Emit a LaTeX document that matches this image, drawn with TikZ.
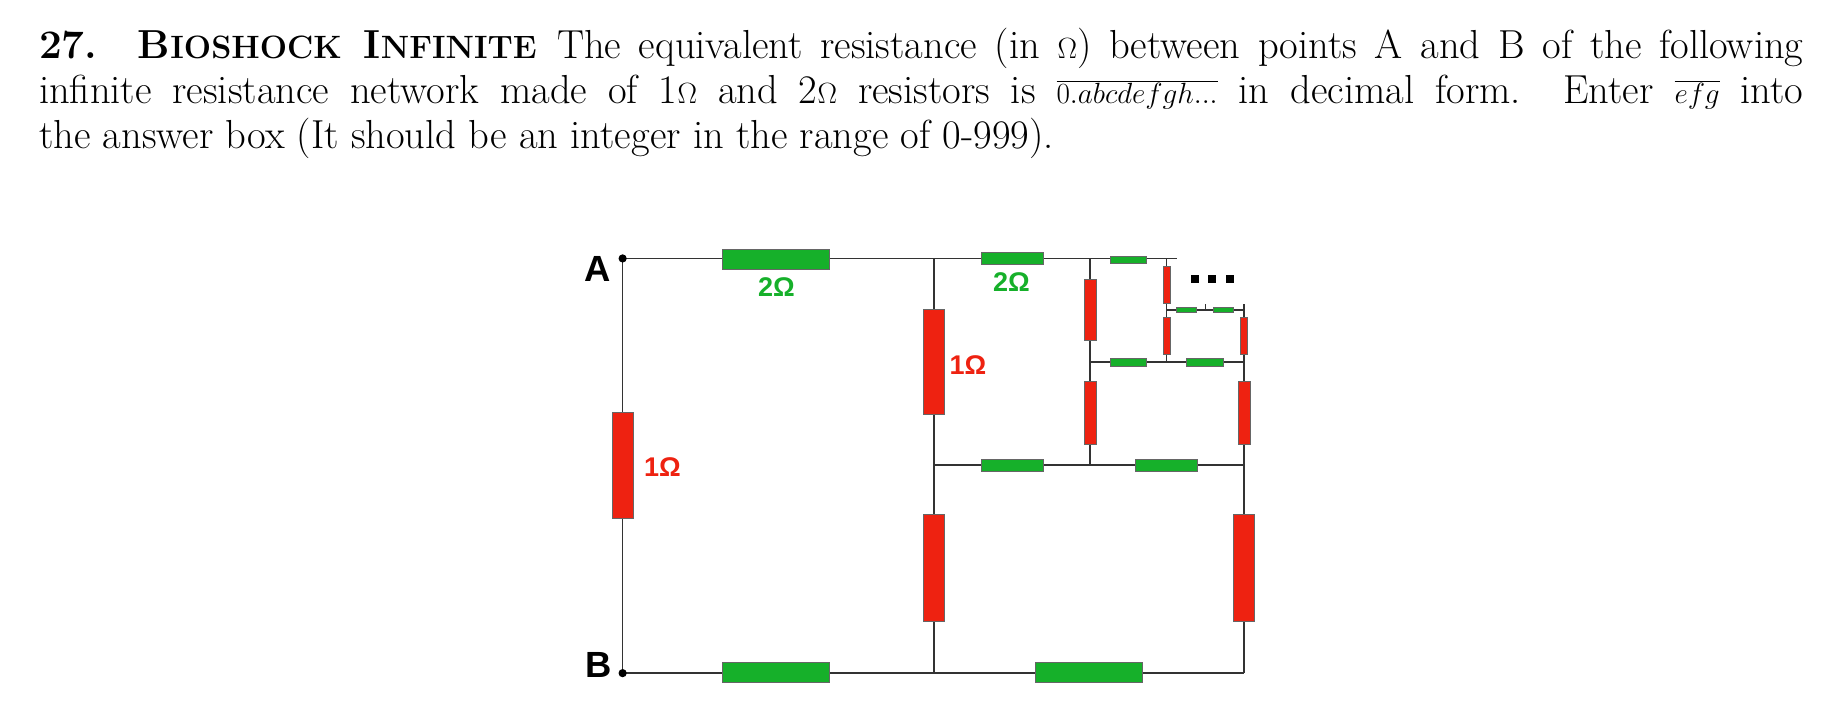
\documentclass[tikz,border=0pt]{standalone}
\usepackage{fontspec}
\newfontfamily\lab{Liberation Sans}
\definecolor{grn}{HTML}{16B02A}
\definecolor{rd}{HTML}{EE2211}
\definecolor{wire}{HTML}{333333}
\begin{document}
\begin{tikzpicture}[x=1pt,y=-1pt,
  wr/.style={draw=wire,line width=1.3pt},
  res/.style={draw=black!60,line width=0.6pt,inner sep=0pt,minimum width=#1},
  gres/.style={res=#1,fill=grn},
  rres/.style={res=#1,fill=rd},
  glab/.style={text=grn,font=\lab\bfseries\fontsize{23}{23}\selectfont},
  rlab/.style={text=rd,font=\lab\bfseries\fontsize{23}{23}\selectfont},
  ptlab/.style={font=\lab\bfseries\fontsize{31}{31}\selectfont},
  txt/.style={anchor=base west,inner sep=0pt,font=\fontsize{34.5}{38}\selectfont}]
\useasboundingbox (0,0) rectangle (1568,613);
% text
\newcommand\smc[1]{{\fontsize{27.5}{20}\selectfont #1}}
\node[txt] (l1) at (33,50) {\makebox[1502pt][s]{\textbf{27. B\smc{IOSHOCK} I\smc{NFINITE}}\enspace The equivalent resistance (in $\Omega$) between points A and B of the following}};
\node[txt] (l2) at (33,88) {\makebox[1502pt][s]{infinite resistance network made of 1$\Omega$ and 2$\Omega$ resistors is $\overline{0.abcdefgh...}$ in decimal form. Enter $\overline{efg}$ into}};
\node[txt] (l3) at (33,126) {the answer box (It should be an integer in the range of 0-999).};
% junctions
\coordinate (A) at (530,220); \coordinate (B) at (530,573);
\coordinate (T1) at (795,220); \coordinate (T2) at (928,220); \coordinate (T3) at (993,220); \coordinate (Tend) at (1002,220);
\coordinate (M1) at (795,396); \coordinate (M2) at (928,396); \coordinate (M3) at (1059,396);
\coordinate (Bm) at (795,573); \coordinate (Br) at (1059,573);
\coordinate (H1) at (928,308); \coordinate (H2) at (993,308); \coordinate (H3) at (1059,308);
\coordinate (S1) at (993,264); \coordinate (S2) at (1059,264); \coordinate (Rtop) at (1059,259);
\coordinate (K1) at (1026,264); \coordinate (K2) at (1026,259);
% wires
\draw[wr] (A) -- (Tend);
\draw[wr] (A) -- (B) -- (Br);
\draw[wr] (T1) -- (Bm);
\draw[wr] (M1) -- (M3);
\draw[wr] (Rtop) -- (Br);
\draw[wr] (T2) -- (M2);
\draw[wr] (H1) -- (H3);
\draw[wr] (T3) -- (H2);
\draw[wr] (S1) -- (S2);
\draw[wr] (K1) -- (K2);
% green resistors
\node[gres=91pt,minimum height=17pt] (g1) at (660.5,220.5) {};
\node[gres=53pt,minimum height=10pt] (g2) at (861.5,220) {};
\node[gres=31pt,minimum height=6pt] (g3) at (960.5,221) {};
\node[gres=17pt,minimum height=4pt] (g4) at (1009.5,264) {};
\node[gres=17pt,minimum height=4pt] (g5) at (1041.5,264) {};
\node[gres=31pt,minimum height=7pt] (g6) at (960.5,308.5) {};
\node[gres=31pt,minimum height=7pt] (g7) at (1025.5,308.5) {};
\node[gres=53pt,minimum height=10pt] (g8) at (861.5,396) {};
\node[gres=53pt,minimum height=10pt] (g9) at (993,396) {};
\node[gres=91pt,minimum height=17pt] (g10) at (660.5,572.5) {};
\node[gres=91pt,minimum height=17pt] (g11) at (926.5,572.5) {};
% red resistors
\node[rres=18pt,minimum height=90pt] (r1) at (530,396) {};
\node[rres=18pt,minimum height=90pt] (r2) at (795,308) {};
\node[rres=18pt,minimum height=91pt] (r3) at (795,483.5) {};
\node[rres=10pt,minimum height=52pt] (r4) at (928,264) {};
\node[rres=10pt,minimum height=53pt] (r5) at (928,351.5) {};
\node[rres=6pt,minimum height=31pt] (r6) at (993,242.5) {};
\node[rres=6pt,minimum height=32pt] (r7) at (993,286) {};
\node[rres=6pt,minimum height=32pt] (r8) at (1059,286) {};
\node[rres=10pt,minimum height=53pt] (r9) at (1059,351.5) {};
\node[rres=18pt,minimum height=91pt] (r10) at (1059,483.5) {};
% labels
\node[glab] (lg1) at (661,244) {2Ω};
\node[glab] (lg2) at (861,240) {2Ω};
\node[rlab] (lr2) at (824,311) {1Ω};
\node[rlab] (lr1) at (564,398) {1Ω};
% points
\fill (A) circle (3.5pt); \fill (B) circle (3.5pt);
\node[ptlab] (la) at (509,229) {A};
\node[ptlab] (lb) at (510,566) {B};
% dots
\foreach \x in {1017,1032,1047} \fill (\x-3.5,234) rectangle (\x+3.5,241);
\end{tikzpicture}
\end{document}
